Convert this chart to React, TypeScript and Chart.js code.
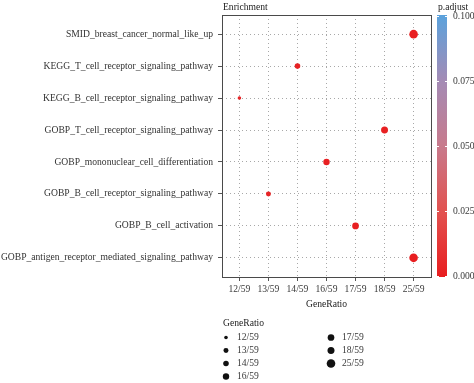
import React, { useEffect, useRef } from 'react';
import { Chart, registerables } from 'chart.js';

Chart.register(...registerables);

const pathways = [
  'SMID_breast_cancer_normal_like_up',
  'KEGG_T_cell_receptor_signaling_pathway',
  'KEGG_B_cell_receptor_signaling_pathway',
  'GOBP_T_cell_receptor_signaling_pathway',
  'GOBP_mononuclear_cell_differentiation',
  'GOBP_B_cell_receptor_signaling_pathway',
  'GOBP_B_cell_activation',
  'GOBP_antigen_receptor_mediated_signaling_pathway',
];
const geneRatioLabels = ['12/59', '13/59', '14/59', '16/59', '17/59', '18/59', '25/59'];
const geneCounts = [12, 13, 14, 16, 17, 18, 25];
const pathwayGeneRatio = ['25/59', '14/59', '12/59', '18/59', '16/59', '13/59', '17/59', '25/59'];
const pathwayPAdjust = [0.0004, 0.0021, 0.0035, 0.0008, 0.0012, 0.003, 0.0006, 0.0001];
const colorbarTicks = [0, 0.025, 0.05, 0.075, 0.1];
const colorbarLabels = ['0.000', '0.025', '0.050', '0.075', '0.100'];

const FONT = '"Liberation Serif", "DejaVu Serif", serif';
const FS = 9.6;
const gradStops: [number, number[]][] = [
  [0, [232, 30, 32]],
  [0.25, [226, 82, 80]],
  [0.5, [200, 122, 140]],
  [0.75, [164, 139, 181]],
  [1, [92, 162, 220]],
];

function colorFor(p: number): string {
  const t = Math.max(0, Math.min(1, p / 0.1));
  for (let i = 0; i < gradStops.length - 1; i++) {
    const [a, ca] = gradStops[i];
    const [b, cb] = gradStops[i + 1];
    if (t <= b) {
      const f = (t - a) / (b - a);
      const c = ca.map((v, k) => Math.round(v + (cb[k] - v) * f));
      return `rgb(${c[0]},${c[1]},${c[2]})`;
    }
  }
  return 'rgb(92,162,220)';
}

function radiusFor(count: number): number {
  return 1.8 + 2.5 * Math.sqrt((count - geneCounts[0]) / (geneCounts[geneCounts.length - 1] - geneCounts[0]));
}

const extrasPlugin = {
  id: 'extras',
  beforeDatasetsDraw(chart: any) {
    const { ctx, chartArea } = chart;
    ctx.save();
    ctx.strokeStyle = '#4a4a4a';
    ctx.lineWidth = 1;
    ctx.strokeRect(Math.round(chartArea.left) + 0.5, Math.round(chartArea.top) + 0.5,
      Math.round(chartArea.right - chartArea.left), Math.round(chartArea.bottom - chartArea.top));
    ctx.restore();
  },
  afterDraw(chart: any) {
    const { ctx, chartArea } = chart;
    ctx.save();
    ctx.font = `${FS}px ${FONT}`;
    ctx.textBaseline = 'middle';
    ctx.fillStyle = '#222';
    ctx.textAlign = 'left';
    ctx.fillText('Enrichment', chartArea.left + 1, 7);
    ctx.fillText('p.adjust', 438, 7);

    // colorbar
    const bx = 437, bw = 10, top = chartArea.top, bottom = chartArea.bottom;
    const yTop = top + 1, yBot = bottom - 1;
    const g = ctx.createLinearGradient(0, yBot, 0, yTop);
    gradStops.forEach(([s, c]) => g.addColorStop(s, `rgb(${c[0]},${c[1]},${c[2]})`));
    ctx.fillStyle = g;
    ctx.fillRect(bx, top, bw, bottom - top);
    ctx.fillStyle = '#3a3a3a';
    ctx.strokeStyle = '#ffffff';
    ctx.lineWidth = 1;
    colorbarTicks.forEach((v, i) => {
      const y = yBot - (v / 0.1) * (yBot - yTop);
      ctx.beginPath();
      ctx.moveTo(bx, Math.round(y) + 0.5);
      ctx.lineTo(bx + 2, Math.round(y) + 0.5);
      ctx.moveTo(bx + bw - 2, Math.round(y) + 0.5);
      ctx.lineTo(bx + bw, Math.round(y) + 0.5);
      ctx.stroke();
      ctx.fillText(colorbarLabels[i], 453, y);
    });

    // x title
    ctx.fillStyle = '#222';
    ctx.textAlign = 'center';
    ctx.fillText('GeneRatio', (chartArea.left + chartArea.right) / 2, 304);

    // size legend
    ctx.textAlign = 'left';
    ctx.fillText('GeneRatio', 223, 323);
    const rows = [337.5, 350.5, 363.5, 376.5];
    geneRatioLabels.forEach((lab, i) => {
      const col = i < 4 ? 0 : 1;
      const row = i < 4 ? i : i - 4;
      const dx = col === 0 ? 226 : 331;
      const y = rows[row];
      ctx.fillStyle = '#111';
      ctx.beginPath();
      ctx.arc(dx, y, radiusFor(geneCounts[i]), 0, Math.PI * 2);
      ctx.fill();
      ctx.fillStyle = '#3a3a3a';
      ctx.fillText(lab, dx + 11, y);
    });
    ctx.restore();
  },
};

export default function App() {
  const ref = useRef<HTMLCanvasElement | null>(null);
  useEffect(() => {
    if (!ref.current) return;
    const points = pathways.map((_, i) => ({
      x: geneRatioLabels.indexOf(pathwayGeneRatio[i]),
      y: i,
    }));
    const radii = pathwayGeneRatio.map((r) => radiusFor(geneCounts[geneRatioLabels.indexOf(r)]));
    const colors = pathwayPAdjust.map((p) => colorFor(p));
    const chart = new Chart(ref.current, {
      type: 'scatter',
      data: {
        datasets: [
          {
            data: points,
            pointRadius: radii,
            pointHoverRadius: radii,
            backgroundColor: colors,
            borderColor: colors,
            borderWidth: 0,
          },
        ],
      },
      options: {
        responsive: false,
        animation: false,
        events: [],
        layout: { padding: { left: 0, top: 15, right: 43, bottom: 0 } },
        font: { family: FONT, size: FS },
        plugins: { legend: { display: false }, tooltip: { enabled: false } },
        scales: {
          x: {
            type: 'linear',
            min: -0.6,
            max: geneRatioLabels.length - 1 + 0.6,
            afterBuildTicks: (scale: any) => {
              scale.ticks = geneRatioLabels.map((_, i) => ({ value: i }));
            },
            afterFit: (scale: any) => {
              scale.height = 106;
            },
            ticks: {
              autoSkip: false,
              maxRotation: 0,
              padding: 3,
              color: '#3a3a3a',
              font: { family: FONT, size: FS },
              callback: (v: any) => geneRatioLabels[v as number] ?? '',
            },
            grid: {
              color: '#a8a8a8',
              lineWidth: 1,
              tickLength: 4,
              tickColor: '#555',
              tickBorderDash: [1, 0],
            },
            border: { display: false, dash: [1, 3] },
          },
          y: {
            type: 'linear',
            reverse: true,
            min: -0.6,
            max: pathways.length - 1 + 0.6,
            afterBuildTicks: (scale: any) => {
              scale.ticks = pathways.map((_, i) => ({ value: i }));
            },
            afterFit: (scale: any) => {
              scale.width = 222;
            },
            ticks: {
              autoSkip: false,
              padding: 5,
              color: '#333',
              font: { family: FONT, size: FS },
              callback: (v: any) => pathways[v as number] ?? '',
            },
            grid: {
              color: '#a8a8a8',
              lineWidth: 1,
              tickLength: 4,
              tickColor: '#555',
              tickBorderDash: [1, 0],
            },
            border: { display: false, dash: [1, 3] },
          },
        },
      },
      plugins: [extrasPlugin],
    } as any);
    return () => chart.destroy();
  }, []);
  return (
    <div style={{ position: 'fixed', left: 0, top: 0, width: 474, height: 383, background: '#fff' }}>
      <canvas ref={ref} width={474} height={383} style={{ width: 474, height: 383 }} />
    </div>
  );
}
